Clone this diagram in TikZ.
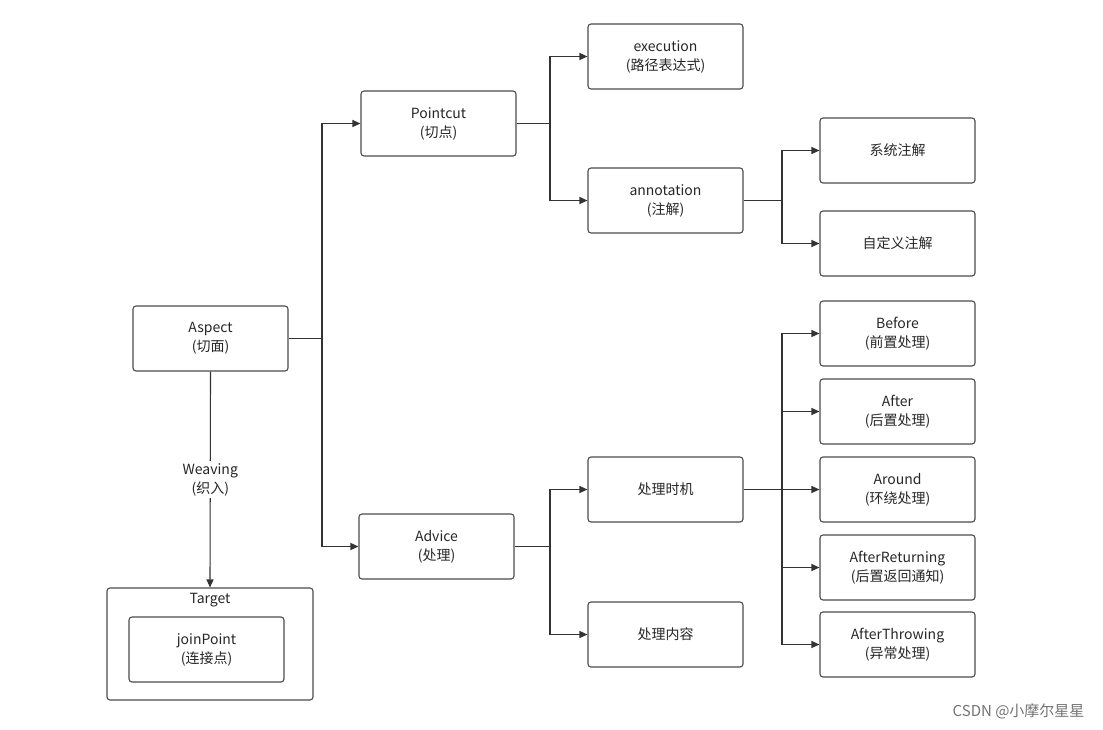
\documentclass[tikz,border=0pt]{standalone}
\usepackage{fontspec}
\setmainfont{Noto Sans CJK SC}
\usetikzlibrary{arrows.meta}
\begin{document}
\begin{tikzpicture}[x=1pt,y=-1pt,
  box/.style={draw=black!70,line width=1.1pt,rounded corners=3pt,minimum width=155pt,minimum height=65pt,align=center,font=\fontsize{14}{19}\selectfont,text=black!85,inner sep=0pt},
  con/.style={draw=black!80,line width=1.1pt},
  arr/.style={con,-{Triangle[length=8pt,width=7pt]}}]
\useasboundingbox (0,0) rectangle (1103,729);
\node[box] (aspect) at (210.5,338.5) {Aspect\\(切面)};
\node[box,minimum width=206pt,minimum height=112pt] (target) at (210,644) {};
\node[font=\fontsize{14}{17}\selectfont,text=black!85] (tlabel) at (210,600) {Target};
\node[box] (join) at (206.5,649.5) {joinPoint\\(连接点)};
\node[box] (pointcut) at (438.5,123.5) {Pointcut\\(切点)};
\node[box] (advice) at (436.5,546.5) {Advice\\(处理)};
\node[box] (exec) at (665.5,56.5) {execution\\(路径表达式)};
\node[box] (anno) at (665.5,200.5) {annotation\\(注解)};
\node[box] (sys) at (897.5,150.5) {系统注解};
\node[box] (custom) at (897.5,243.5) {自定义注解};
\node[box] (timing) at (665.5,489.5) {处理时机};
\node[box] (content) at (665.5,634.5) {处理内容};
\node[box] (before) at (897.5,333.5) {Before\\(前置处理)};
\node[box] (after) at (897.5,411.5) {After\\(后置处理)};
\node[box] (around) at (897.5,489.5) {Around\\(环绕处理)};
\node[box] (aret) at (897.5,567.5) {AfterReturning\\(后置返回通知)};
\node[box] (athrow) at (897.5,644.5) {AfterThrowing\\(异常处理)};

\draw[con] (aspect.east) -- (322,338.5);
\draw[arr] (322,338.5) |- (pointcut.west);
\draw[arr] (322,338.5) |- (advice.west);
\draw[con] (pointcut.east) -- (550,123.5);
\draw[arr] (550,123.5) |- (exec.west);
\draw[arr] (550,123.5) |- (anno.west);
\draw[con] (anno.east) -- (782,200.5);
\draw[arr] (782,200.5) |- (sys.west);
\draw[arr] (782,200.5) |- (custom.west);
\draw[con] (advice.east) -- (550,546.5);
\draw[arr] (550,546.5) |- (timing.west);
\draw[arr] (550,546.5) |- (content.west);
\draw[con] (timing.east) -- (782,489.5);
\foreach \n in {before,after,around,aret,athrow} \draw[arr] (782,489.5) |- (\n.west);
\draw[arr] (aspect.south) -- node[fill=white,align=center,font=\fontsize{14}{19}\selectfont,text=black!85,inner sep=2pt] (weave) {Weaving\\(织入)} (target.north);
\node[text=black!55,font=\fontsize{15}{18}\selectfont,anchor=east] (wm) at (1088,711) {CSDN @小摩尔星星};
\end{tikzpicture}
\end{document}
